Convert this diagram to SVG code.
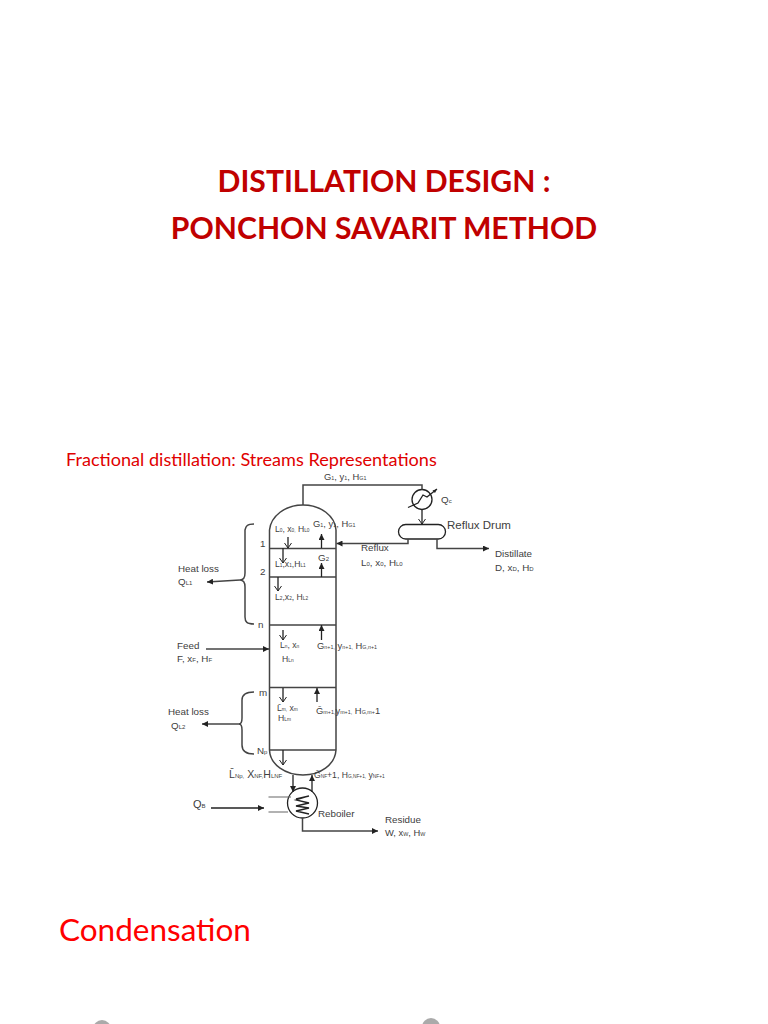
<svg xmlns="http://www.w3.org/2000/svg" width="768" height="1024" viewBox="0 0 768 1024">
<style>
text{font-family:"Liberation Sans",Arial,sans-serif;fill:#404040;font-size:9.800px}
.h{font-family:Lato,"Open Sans",sans-serif}
.title{font-size:30.100px;font-weight:700;fill:#c00000;text-anchor:middle}
.sub{font-size:18.100px;fill:#e00000}
.big{font-size:31.500px;fill:#ff0000}
.s{font-size:6px}
.m{font-size:8.600px}
.m .s{font-size:4.800px}
.t{font-size:9.400px}
.t .s{font-size:5.400px}
.ln{fill:none;stroke:#444;stroke-width:1.500}
.dk{fill:none;stroke:#222;stroke-width:1.300}
.thin{fill:none;stroke:#666;stroke-width:1.100}
</style>
<defs>
<marker id="a" markerWidth="7" markerHeight="6" refX="6" refY="3" orient="auto" markerUnits="userSpaceOnUse"><path d="M0 0L6 3L0 6Z" fill="#222"/></marker>
<marker id="o" markerWidth="8" markerHeight="8" refX="6" refY="4" orient="auto" markerUnits="userSpaceOnUse"><path d="M1 0.500L6 4L1 7.500" fill="none" stroke="#222"/></marker>
</defs>
<rect width="768" height="1024" fill="#fff"/>
<g id="headings">
<text class="h title" x="384" y="192">DISTILLATION DESIGN :</text>
<text class="h title" x="384" y="239">PONCHON SAVARIT METHOD</text>
<text class="h sub" x="66" y="466">Fractional distillation: Streams Representations</text>
<text class="h big" x="59" y="941">Condensation</text>
</g>
<g id="column">
<path class="ln" d="M269.500 530C271 516 285 505 303 505C321 505 335 516 336 530V750C335 765 320 775 303 775C286 775 270 765 269.500 750Z"/>
<path class="ln" d="M269.500 548.500H336M269.500 577H336M269.500 625H336M269.500 687.500H336M269.500 750H336"/>
</g>
<g id="drum">
<rect class="dk" x="398.500" y="524.500" width="47" height="14.500" rx="7.200" fill="#fff"/>
</g>
<g id="condenser">
<circle class="dk" cx="422" cy="499.500" r="10"/>
<path class="dk" d="M408 507.500L418 503L423 495L427 497L437 489"/>
<path d="M437 489l-4.500 1.500l2.500 2.500z" fill="#222"/>
</g>
<g id="reboiler">
<circle class="dk" cx="302.500" cy="803" r="15"/>
<path class="dk" d="M296 799L309 796L296 800L309 803L296 806L309 808L296 811L309 814"/>
</g>
<g id="connectors">
<path class="ln" d="M303 505V485H422V489.500"/>
<path class="dk" marker-end="url(#o)" d="M422 509.500V524"/>
<path class="ln" marker-end="url(#a)" d="M408 539V543.500H336.500"/>
<path class="ln" marker-end="url(#a)" d="M437 539V548.500H489"/>
<path class="dk" marker-end="url(#o)" d="M288 537V548"/>
<path class="dk" marker-end="url(#o)" d="M283 548V563"/>
<path class="dk" marker-end="url(#o)" d="M278 577V591"/>
<path class="dk" marker-end="url(#o)" d="M283 630V640"/>
<path class="dk" marker-end="url(#o)" d="M283 688V702"/>
<path class="dk" marker-end="url(#o)" d="M283 750V765"/>
<path class="dk" marker-end="url(#a)" d="M321.500 548V534"/>
<path class="dk" marker-end="url(#a)" d="M321.500 577V563"/>
<path class="dk" marker-end="url(#a)" d="M321.500 640V625"/>
<path class="dk" marker-end="url(#a)" d="M317 702V688"/>
<path class="ln" marker-end="url(#a)" d="M206 649H269"/>
<path class="dk" marker-end="url(#a)" d="M293 775V792"/>
<path class="dk" marker-end="url(#a)" d="M312 792V775"/>
<path class="thin" d="M268.500 797H291M268.500 812H288"/>
<path class="dk" marker-end="url(#a)" d="M211 808H264"/>
<path class="ln" marker-end="url(#a)" d="M302.500 818V831H378"/>
<path class="ln" d="M254 524C247 524 246 526 245 530V573C245 578 243 580 240 580C243 580 245 582 245 587V617C245 622 247 624 254 624"/>
<path class="ln" marker-end="url(#a)" d="M240 580L207 582"/>
<path class="ln" d="M254 692C246 692 242 694 242 700V718C242 722 241 724 239 724C241 724 242 726 242 730V745C242 751 246 754 254 754"/>
<path class="ln" marker-end="url(#a)" d="M240 724H202"/>
</g>
<g id="labels">
<text class="t" x="324" y="480">G<tspan class="s">1</tspan>, y<tspan class="s">1</tspan>, H<tspan class="s">G1</tspan></text>
<text x="441" y="503">Q<tspan class="s">c</tspan></text>
<text x="447" y="528.500" style="font-size:11.500px">Reflux Drum</text>
<text x="361" y="551">Reflux</text>
<text x="361" y="566">L<tspan class="s">0</tspan>, x<tspan class="s">0</tspan>, H<tspan class="s">L0</tspan></text>
<text x="495" y="557">Distillate</text>
<text x="495" y="571">D, x<tspan class="s">D</tspan>, H<tspan class="s">D</tspan></text>
<text class="m" x="275" y="532">L<tspan class="s">0</tspan>, x<tspan class="s">0,</tspan> H<tspan class="s">L0</tspan></text>
<text class="t" x="313" y="527">G<tspan class="s">1</tspan>, y<tspan class="s">1</tspan>, H<tspan class="s">G1</tspan></text>
<text class="m" x="275" y="567">L<tspan class="s">1</tspan>,x<tspan class="s">1</tspan>,H<tspan class="s">L1</tspan></text>
<text x="318" y="561">G<tspan class="s">2</tspan></text>
<text class="m" x="275" y="600">L<tspan class="s">2</tspan>,x<tspan class="s">2</tspan>, H<tspan class="s">L2</tspan></text>
<text x="260" y="547">1</text>
<text x="260" y="575">2</text>
<text x="258" y="628">n</text>
<text x="178" y="572">Heat loss</text>
<text x="178" y="585">Q<tspan class="s">L1</tspan></text>
<text x="177" y="649">Feed</text>
<text x="177" y="662">F, x<tspan class="s">F</tspan>, H<tspan class="s">F</tspan></text>
<text class="m" x="280" y="648">L<tspan class="s">n</tspan>, x<tspan class="s">n</tspan></text>
<text class="m" x="282" y="662">H<tspan class="s">Ln</tspan></text>
<text class="t" x="317" y="649">G<tspan class="s">n+1,</tspan> y<tspan class="s">n+1,</tspan> H<tspan class="s">G,n+1</tspan></text>
<text x="259" y="696">m</text>
<text x="168" y="715">Heat loss</text>
<text x="171" y="729">Q<tspan class="s">L2</tspan></text>
<text class="m" x="277" y="711">L̄<tspan class="s">m,</tspan> x<tspan class="s">m</tspan></text>
<text class="m" x="278" y="721">H<tspan class="s">Lm</tspan></text>
<text class="t" x="316" y="714">Ḡ<tspan class="s">m+1,</tspan>y<tspan class="s">m+1,</tspan> H<tspan class="s">G,m+</tspan>1</text>
<text x="257" y="754">N<tspan class="s">p</tspan></text>
<text x="229" y="778" style="font-size:10.600px">L̄<tspan class="s">Np,</tspan> X<tspan class="s">NF,</tspan>H<tspan class="s">LNF</tspan></text>
<text class="m" x="314" y="778">Ḡ<tspan class="s">NF</tspan>+1, H<tspan class="s">G,NF+1,</tspan> y<tspan class="s">NF+1</tspan></text>
<text x="193" y="808" style="font-size:11px">Q<tspan class="s">B</tspan></text>
<text x="318" y="817">Reboiler</text>
<text x="385" y="823">Residue</text>
<text class="t" x="385" y="836">W, x<tspan class="s">W</tspan>, H<tspan class="s">W</tspan></text>
</g>
<g id="page-marks">
<circle cx="102" cy="1029" r="9" fill="#aaa"/>
<circle cx="431" cy="1027" r="9" fill="#aaa"/>
</g>
</svg>
